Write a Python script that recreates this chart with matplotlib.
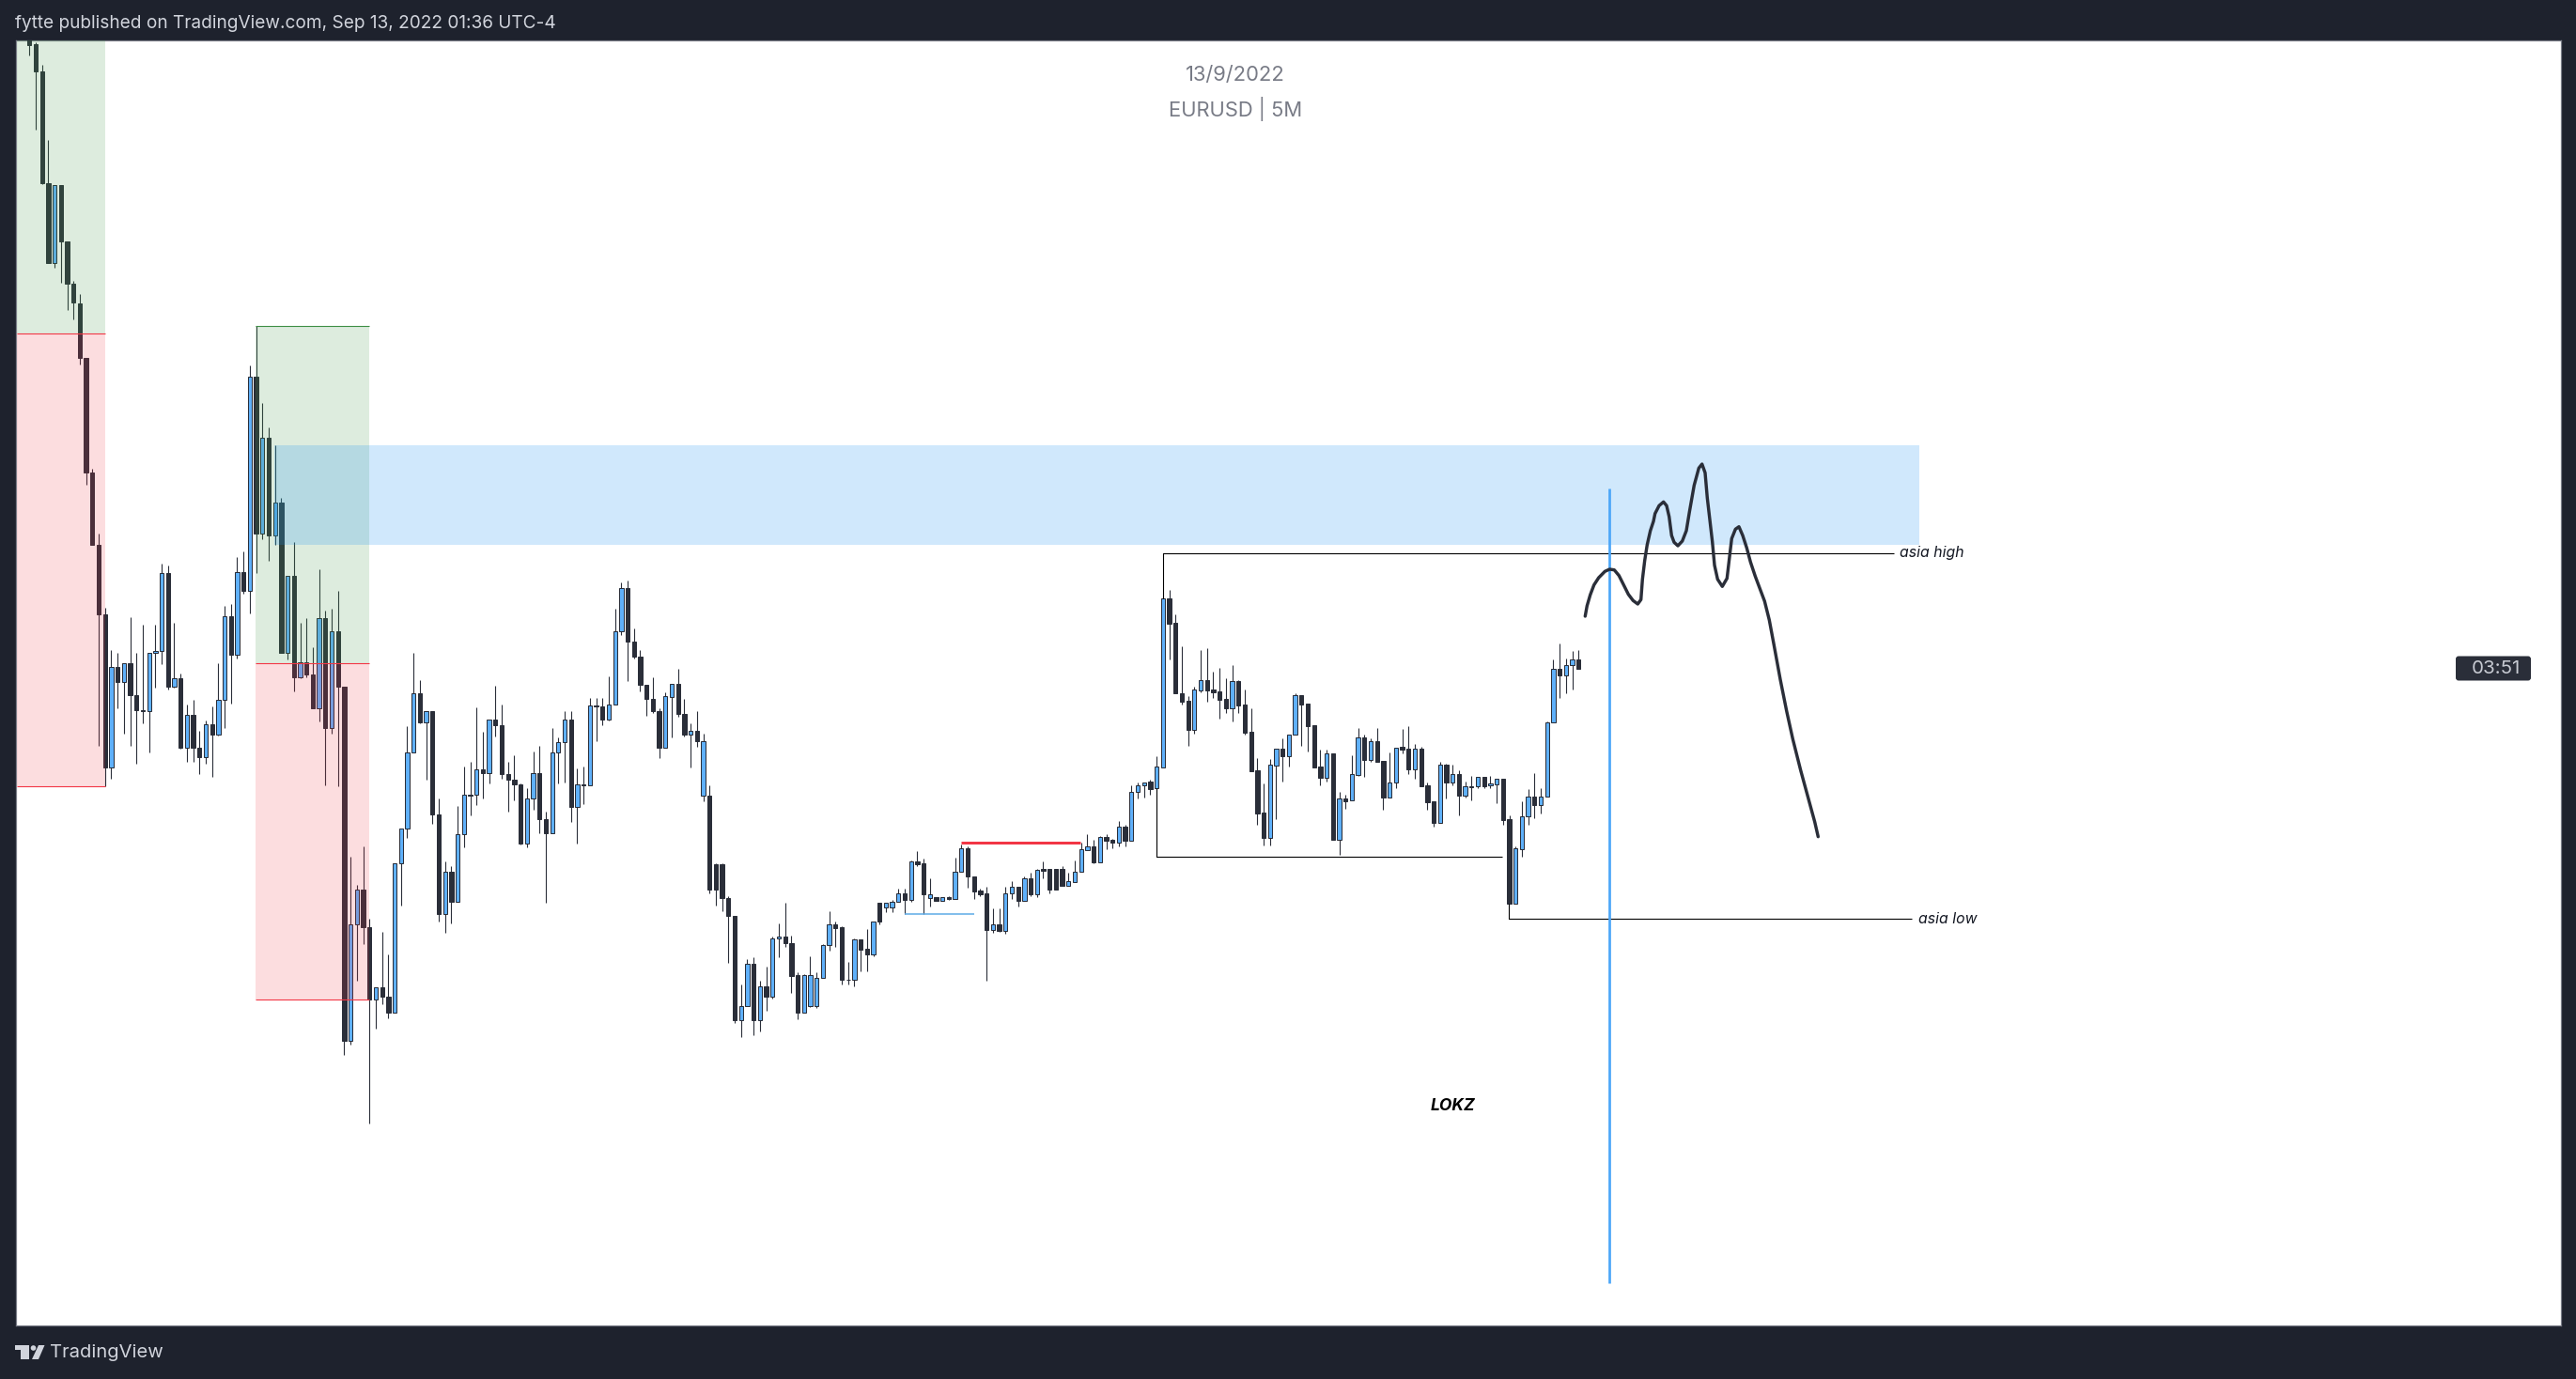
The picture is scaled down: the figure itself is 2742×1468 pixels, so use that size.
import matplotlib
matplotlib.use("Agg")
import matplotlib.pyplot as plt
from matplotlib.patches import Rectangle, Polygon, Circle, FancyBboxPatch
import numpy as np

W, H = 2742, 1468
# chart pane in reference pixels
PANE_L, PANE_R, PANE_T, PANE_B = 17, 2726, 43, 1411
BAR0_X, BAR_DX = 31.3, 6.703

# candle values, in reference chart rows (smaller = higher price)
body_top = [30,47.2,75.7,194.7,197.4,197.4,257.2,301.6,322.5,381.1,
 503.4,580.2,654.2,709.6,709.6,706.3,706.3,740.3,756.2,695.4,
 692.6,610.4,610.4,722.2,722.2,760.6,760.6,795.7,770.5,770.5,
 744.7,656.4,656.4,609.3,609.3,401.4,401.4,465.6,465.6,535.2,
 535.2,612.6,612.6,704.7,704.7,718.4,657.5,657.5,672.3,672.3,
 730.5,984.4,946.5,946.5,987.1,1051.3,1051.3,1060.6,919.1,882.4,
 801.2,737.6,737.6,757.3,757.3,866.5,928.4,928.4,888.4,845.6,
 845.6,818.8,818.8,765.6,765.6,772.1,824.2,830.3,834.7,849.5,
 823.1,823.1,872,801.2,789.7,765.6,765.6,834.7,834.7,750.8,
 750.8,752.4,749.7,672.3,626.3,626.3,682.7,699.3,728.7,743.7,
 756.7,741.3,728.3,728.3,759.7,778.3,778.3,788.7,846.7,920.3,
 920.3,955.7,974.7,1070.7,1026.3,1026.3,1050.3,1050.3,999.3,997.3,
 997.3,1003.7,1038.3,1038.3,1038.3,1041.3,1006.3,984.3,984.3,987,
 1042.7,1000.3,1000.3,1010.3,981.3,961.3,961.3,960.3,951.3,951.3,
 917.3,917.3,919.3,951.7,955.3,955.3,955.3,928.3,903.3,903.3,
 932.7,948.3,951.3,984.3,984.3,951.3,944.3,944.3,935.3,935.3,
 926.3,925.3,925.3,925.3,925.3,938.3,928.3,904.3,901.3,901.3,
 891.3,891.3,894.3,880.3,880.3,843.3,836.3,832.7,832.3,816.3,
 637.3,637.3,663.3,737.7,746.3,734.3,724.3,724.3,734.3,736.3,
 744.3,725.3,725.3,750.3,779.3,820.3,865.3,814.3,797.3,797.3,
 782.3,740.3,740.3,749.3,772.3,816.3,802.3,802.3,850.3,850.3,
 824.3,785.3,785.3,789.3,789.3,810.3,833.3,795.7,795.3,797.3,
 797.3,797.3,836.3,853.3,814.3,814.3,824.3,824.3,837.3,837.3,
 827.3,827.3,834.3,829.3,829,872.3,903.3,869.3,848.3,848.3,
 848.3,769.3,712.3,712.3,708.3,702.3,702.3]
body_bot = [48.3,75.7,194.7,280.2,280.2,257.2,301.6,322.5,381.1,503.4,
 580.2,654.2,816.6,816.6,725.5,725.5,740.3,756.2,757.3,757.3,
 695.4,692.6,730.5,730.5,795.7,795.7,795.7,805.6,805.6,781.5,
 781.5,744.7,696.5,696.5,628.5,628.5,568.1,568.1,570.3,570.3,
 695.4,695.4,720.6,720.6,718.4,753.5,753.5,775.4,775.4,730.5,
 1108.3,1108.3,984.4,987.1,1063.9,1063.9,1060.6,1077.6,1077.6,919.1,
 882.4,801.2,768.9,768.9,866.5,973.4,973.4,960.2,960.2,888.4,
 846.5,846.2,823.1,823.1,772.1,824.2,830.3,834.7,898.3,898.3,
 849.5,872,887.3,887.3,801.2,789.7,859.3,859.3,836,836.3,
 752.4,765.6,765.6,749.7,672.3,682.7,699.3,728.7,743.7,756.7,
 795.7,795.7,741.7,759.7,782,781.7,788.7,846.7,946.7,946.7,
 955.7,974.7,1085.7,1085.7,1070.7,1085.7,1085.7,1060.7,1060.7,999.3,
 1003.7,1038.7,1077.7,1077.7,1070.7,1070.7,1041.3,1006.3,987.7,1042.7,
 1043.4,1042.7,1010.7,1015.7,1015.7,981.3,965.7,965.7,960.3,957.7,
 957.7,919.7,951.7,955.7,958.7,958.7,957.3,957.3,928.3,932.7,
 948.7,951.7,989.7,989.7,990.7,990.7,951.3,958.7,958.7,951.7,
 951.7,926.7,946.7,946.7,942.7,942.7,938.7,928.3,904.7,917.7,
 917.7,894.7,896.7,896.7,894.7,894.7,843.3,836.3,839.7,839.3,
 816.7,663.7,737.7,746.7,776.7,776.7,734.7,734.7,736.7,744.7,
 753.7,753.7,750.7,780,820.7,865.7,891.7,891.7,814.7,804.7,
 804.7,782.3,749.7,772.7,816.7,827.7,827.7,893.7,893.7,852.7,
 852.3,824.7,808.7,808.7,810.7,849,848.7,833.3,797.7,818.7,
 818.7,836.7,853.7,875.7,875.7,832.7,832.7,846.7,846.7,838,
 837.3,837,836.3,834.7,872.7,961.7,961.7,903.7,869.3,856.7,
 856.7,848.3,769.3,718.7,718.7,708.3,711.7]
wick_high = [20,45,69.1,149.2,197.4,197.4,257.2,299.4,312.6,381.1,
 498.5,568.1,647.1,692.1,695.4,706.3,657,695.4,664.7,695.4,
 664.7,600,602.1,663,717.3,750.2,744.7,777.6,766.7,751.9,
 705.8,644.9,642.7,592.8,586.8,389.4,347.1,428.8,455.2,474.4,
 529.7,612.6,576.9,663,658.1,688.8,606,650.4,647.6,629,
 730.5,912,942.1,901,977.8,1051.3,992,1016.2,919.1,882.4,
 772.7,694.8,723.9,757.3,757.3,850,916.9,922.4,857.7,816,
 810.5,752.9,778.7,765.6,729.9,750.2,811,803.9,834,839,
 800.1,794.1,863.7,774.9,784.8,756.8,756.8,818.2,816,743.1,
 743,743,720,648.2,619.7,618.3,669.3,692.3,728.7,721,
 754,737,728.3,712,744,770,757,781,836,919.3,
 919.3,954,974.7,1048,1021,1019.3,1044,1029,996.7,983,
 961,996,1035,1037.3,1018,1035,1005.3,970,981,986,
 1024,999,1000.3,989,981.3,961.3,961,958,946,946,
 916.3,906,914,935,955,955,954,913,899,901,
 932.7,946,944,967,967,944,938,944.3,933,929,
 925,917,925,925,922,929,916,896.7,888,894,
 890,888,893,874,878,836.3,833,832.7,830,805,
 637.3,628,654.3,688,741,731,692,690,715,711,
 722,708,724,734,754,807,834,808,797.3,786,
 782.3,738,740.3,749.3,772.3,798,798,802.3,843,846,
 804,775,782,786,775,810.3,801,795.7,776,773,
 792,795,833,853.3,811,813,814,820,832,826,
 827.3,827.3,826,829.3,829,868,901.3,853,840,823,
 839,768.3,702,685,701.3,693,692]
wick_low = [59.2,138.2,195.8,280.2,284.6,300.5,330.1,340,387.7,515.5,
 580.2,794.1,836.9,829.2,753.5,780.9,794.1,812.7,769.9,800.7,
 732.1,707.4,733.8,732.1,797.4,810.5,810.5,823.7,813.3,827,
 783.1,775.4,749.1,700.8,631.8,652.6,609.8,574.2,596.7,579.7,
 695.4,702,736,721.7,721.1,753.5,767.7,835.7,780.9,836.9,
 1123.1,1111.6,1043.6,1005.2,1195.5,1094.6,1069.4,1084.2,1077.6,963.5,
 892.2,801.2,770,829.7,877.4,980.5,992.6,983.3,960.2,902.1,
 867.6,857.1,850,833.6,784.2,829.2,863.7,852.2,899.4,902.1,
 862.1,887.3,960.8,887.3,833.6,832.5,874.7,897.7,855.5,836.3,
 789.1,772.1,767.2,749.7,676.2,725,700.7,735.7,762,759,
 806.7,795.7,785,762.7,784,817,795,852.7,950.7,964,
 970,1025,1089,1104,1070.7,1101.7,1098,1076,1062.7,1019,
 1008,1057,1085,1077.7,1072,1072.7,1041.3,1012,1008,1048,
 1048,1050,1034,1034,1018,984,971,971,960.3,973.3,
 960,922,973.3,965,959,959,958,957.3,928.3,945,
 956.7,954,1044,992.7,992,994,956.7,965,958.7,953.7,
 954.7,935,950.7,946.7,942.7,942.7,938.7,928.3,904.7,919,
 917.7,904,902.7,900.7,900.7,894.7,850,849,846,839.3,
 816.7,702,737.7,750,794,781,737,747,743,765,
 759,768,759,782,820.7,878,900,900,872,832,
 816,782.3,794,800,816.7,836,832,893.7,910,861,
 852.3,826,827,810.7,810.7,862,848.7,839,802,824,
 829,836.7,862,880,875.7,850,835.7,868,849,852,
 839,839,839,855,878,961.7,961.7,911.7,878,871,
 866,848.3,769.3,743,738,734,711.7]
direction = ("DDDDUDDDDD" "DDDUDUDDDU" "UUDUDUDDUD" "UUDUDUDUDU" "DUDUDDUDUD"
             "DUUDDUDDUU" "UUDUDDUDUU" "DUDUDDDDDU" "UDDUUUDUDU" "DDUUUDDDDD"
             "DUUDDUDUDD" "DDDUUDUDUU" "DDDUUUUUDD" "DUDDUDUUUD" "UDDUDUDUUD"
             "DDDUDUUDUD" "UDDDDUUUUD" "UDDUDUUUDU" "UDDDDUUDDD" "DUDDDDDUUD"
             "UUDDDDUDUD" "UUDUDDUUDD" "UDDDUDUDUU" "UDUUDDUUUD" "UUUDUUD")

# drawings, in reference pixels
brush_x = [1687.3,1689.3,1692.7,1696.7,1701.7,1708.3,1713.3,1718.3,1723.3,1728.3,1733.3,1738.3,1743.3,
 1746.7,1748.3,1750.7,1753.3,1756.7,1760,1761.7,1766,1770.7,1774,1776.7,1779.3,1782,1786,1790.7,1795,
 1798.3,1803.3,1808.3,1811.7,1815,1817.3,1820,1822.7,1825,1828.3,1833.3,1838.3,1841.7,1843.3,1847.3,
 1851,1855,1859.3,1863.3,1868.3,1878.3,1883.3,1888.3,1895,1901.7,1908.3,1916.7,1926.7,1931.7,1935.3]
brush_y = [656,645,633.3,622.7,615,608.3,606,606.7,612.7,622.7,632.7,639.3,643,
 638.3,616.7,596.7,580,565,555,546.7,538.3,534.3,538.3,550,570,577.3,581,576,565,
 545,516.7,498.3,494,503.3,530,553.3,576.7,601.7,616.7,624.3,615.7,586.7,573.3,563.3,
 560.7,570,583.3,598.3,613.3,640,660,686.7,723.3,756.7,786.7,820,856.7,875,890.7]

header_text = "fytte published on TradingView.com, Sep 13, 2022 01:36 UTC-4"
title_lines = ["13/9/2022", "EURUSD | 5M"]
BG = "#1E222D"; INK = "#2A2E39"; UP = "#5FB0FA"
GREEN = "#4C9F50"; RED = "#F23645"; BLUE = "#2196F3"; FONT = "Inter"

fig = plt.figure(figsize=(W/100, H/100), dpi=100, facecolor=BG)
px = 0.72  # points per pixel at this dpi

# candles: own axes, x is bar index
ax = fig.add_axes([PANE_L/W, 1-PANE_B/H, (PANE_R-PANE_L)/W, (PANE_B-PANE_T)/H], facecolor="white")
ax.set_xlim((PANE_L-BAR0_X)/BAR_DX, (PANE_R-BAR0_X)/BAR_DX)
ax.set_ylim(PANE_B, PANE_T)
ax.set_xticks([]); ax.set_yticks([])
for s in ax.spines.values():
    s.set_color("#787B86"); s.set_linewidth(1.2*px)
idx = np.arange(len(body_top))
top, bot = np.array(body_top), np.array(body_bot)
up = np.array([c == "U" for c in direction])
wicks = ax.vlines(idx, wick_high, wick_low, color=INK, lw=1.1*px, zorder=2)
wicks.set_snap(True)
ax.bar(idx, bot-top, bottom=top, width=0.64, color=[UP if u else INK for u in up],
       edgecolor=INK, linewidth=1.0*px, zorder=3)

# overlay: same pixel space as the reference
ov = fig.add_axes([0, 0, 1, 1], facecolor="none")
ov.set_xlim(0, W); ov.set_ylim(H, 0); ov.axis("off")

def band(x0, x1, y0, y1, c, a):
    ov.add_patch(Rectangle((x0, y0), x1-x0, y1-y0, fc=c, ec="none", alpha=a, zorder=2))
def line(xs, ys, c="black", lw=1.1, z=4):
    ov.plot(xs, ys, color=c, lw=lw*px, solid_capstyle="butt", zorder=z)

band(18, 112, 43, 355.4, GREEN, 0.19)
band(18, 112, 355.4, 837.4, RED, 0.17)
line([18, 112], [355.4, 355.4], RED, 1.1)
line([18, 112], [837.4, 837.4], RED, 1.1)
band(272, 393, 347.1, 706.3, GREEN, 0.19)
band(272, 393, 706.3, 1064.4, RED, 0.17)
line([272, 393], [347.1, 347.1], "#3E8E45", 1.1)
line([272, 393], [706.3, 706.3], RED, 1.1)
line([272, 393], [1064.4, 1064.4], RED, 1.1)
band(292.3, 2043, 474, 580, BLUE, 0.21)

line([1238.3, 1238.3, 2015.7], [637.3, 589.3, 589.3])
line([1231.3, 1231.3, 1599.3], [839.3, 912.3, 912.3])
line([1606.3, 1606.3, 2035], [961.7, 978.3, 978.3])
line([1023.3, 1150.3], [897.3, 897.3], RED, 3)
line([963, 1036.7], [973.3, 973.3], "#5AA9E6", 1.5)
line([1713.3, 1713.3], [520, 1366], "#4BA6F8", 2.7, 5)
ov.plot(brush_x, brush_y, color=INK, lw=3.4*px, solid_capstyle="round", solid_joinstyle="round", zorder=6)

ov.text(2021.5, 589, "asia high", fontsize=15.8*px, style="italic", color="#131722", family=FONT, va="center", zorder=7)
ov.text(2042, 978.5, "asia low", fontsize=15.8*px, style="italic", color="#131722", family=FONT, va="center", zorder=7)
ov.text(1546, 1177, "LOKZ", fontsize=17.5*px, style="italic", weight="bold", color="black", family=FONT, ha="center", va="center", zorder=7)
ov.text(1315, 80.5, title_lines[0], fontsize=22*px, color="#787B86", family=FONT, ha="center", va="center", zorder=7)
ov.text(1315, 116, title_lines[1], fontsize=22*px, color="#787B86", family=FONT, ha="center", va="center", zorder=7)

ov.add_patch(FancyBboxPatch((2614, 698.5), 80, 26, boxstyle="round,pad=0,rounding_size=3", fc=INK, ec="none", zorder=7))
ov.text(2657, 712, "03:51", fontsize=20.5*px, color="#C8CBD3", family=FONT, ha="center", va="center", zorder=8)

ov.text(16, 25, header_text, fontsize=19.05*px, color="#D1D4DC", family=FONT, va="center", zorder=8)

# footer logo
LOGO = "#D1D4DC"
ov.add_patch(Polygon([(16,1432),(31,1432),(31,1447),(22,1447),(22,1436.5),(16,1436.5)], fc=LOGO, ec="none", zorder=8))
ov.add_patch(Circle((35.5,1435), 2.8, fc=LOGO, ec="none", zorder=8))
ov.add_patch(Polygon([(41,1432),(47.5,1432),(41,1447),(34,1447)], fc=LOGO, ec="none", zorder=8))
ov.text(53, 1440, "TradingView", fontsize=20.2*px, color="#D1D4DC", family=FONT, va="center", zorder=8)

fig.savefig("out.png", dpi=100, facecolor=BG)
